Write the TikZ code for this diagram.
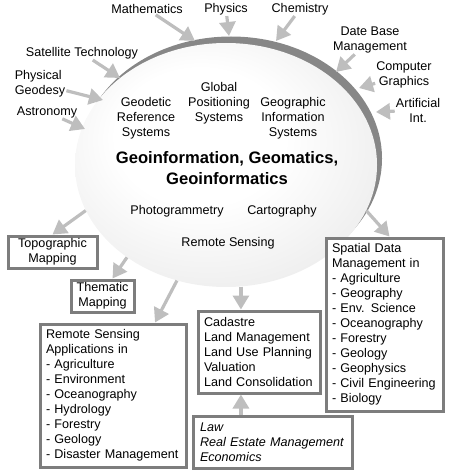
\documentclass[tikz,border=0pt]{standalone}
\usepackage{fontspec}
\setmainfont{Liberation Sans}
\usetikzlibrary{arrows.meta,shapes.geometric,calc}
\definecolor{arrgray}{RGB}{190,190,190}
\definecolor{boxgray}{RGB}{125,125,125}
\definecolor{rimgray}{RGB}{135,135,135}
\definecolor{ellgray}{RGB}{210,210,210}
\definecolor{ellmid}{RGB}{236,236,236}
\pgfdeclareradialshading{ellshade}{\pgfpoint{-6bp}{8bp}}{color(0bp)=(white); color(14bp)=(white); color(32bp)=(ellmid); color(50bp)=(ellgray)}
\begin{document}
\begin{tikzpicture}[x=1pt,y=-1pt,
  lbl/.style={font=\fontsize{12.6}{15}\selectfont, align=center, inner sep=1pt},
  ttl/.style={font=\fontsize{16.6}{20.5}\selectfont\bfseries, align=center, inner sep=1pt},
  bx/.style={draw=boxgray, line width=3pt, fill=white, font=\fontsize{12.6}{15}\selectfont, inner ysep=2pt},
  lbox/.style={bx, align=left},
  cbox/.style={bx, align=center},
  arr/.style={draw=arrgray, line width=3.2pt, -{Triangle[width=16pt,length=14pt]}},
]
\useasboundingbox (0,0) rectangle (451,473);
% rim crescent
\fill[rimgray] (231,158.5) ellipse [x radius=151, y radius=122];
\node[ellipse, minimum width=302pt, minimum height=244pt, inner sep=0pt, shade, shading=ellshade] (geo) at (226,165) {};

% inner texts
\node[lbl] (grs) at (146,118) {Geodetic\\Reference\\Systems};
\node[lbl] (gps) at (219,103) {Global\\Positioning\\Systems};
\node[lbl] (gis) at (293,118) {Geographic\\Information\\Systems};
\node[ttl] (title) at (227,168) {Geoinformation, Geomatics,\\Geoinformatics};
\node[lbl] (photo) at (177,211) {Photogrammetry};
\node[lbl] (carto) at (282,211) {Cartography};
\node[lbl] (rsen) at (228,243) {Remote Sensing};

% outer labels
\node[lbl] (math) at (147,9) {Mathematics};
\node[lbl] (phys) at (226,9) {Physics};
\node[lbl] (chem) at (300,9) {Chemistry};
\node[lbl] (dbm) at (370,40) {Date Base\\Management};
\node[lbl] (cgr) at (404,75) {Computer\\Graphics};
\node[lbl] (ai) at (418,110) {Artificial\\Int.};
\node[lbl] (sat) at (82,53) {Satellite Technology};
\node[lbl, align=left] (pgeo) at (40,84) {Physical\\Geodesy};
\node[lbl] (astro) at (47,112) {Astronomy};

% arrow tips on the rim
\coordinate (tmath) at (195,41);
\coordinate (tphys) at (229,36);
\coordinate (tchem) at (276,41);
\coordinate (tdbm) at (336,72);
\coordinate (tcgr) at (359,88);
\coordinate (tai) at (376,112);
\coordinate (tsat) at (120,78);
\coordinate (tpgeo) at (103,100);
\coordinate (tastro) at (85,129);

\draw[arr] (math) -- (tmath);
\draw[arr] (phys) -- (tphys);
\draw[arr] (chem) -- (tchem);
\draw[arr] (dbm) -- (tdbm);
\draw[arr] (cgr) -- (tcgr);
\draw[arr] (ai) -- (tai);
\draw[arr] (sat) -- (tsat);
\draw[arr] (pgeo) -- (tpgeo);
\draw[arr] (astro) -- (tastro);

% boxes
\node[cbox, minimum width=89pt, minimum height=32pt] (topo) at (52.5,252) {Topographic\\Mapping};
\node[cbox, minimum width=63pt, minimum height=32pt] (them) at (102.5,296) {Thematic\\Mapping};
\node[lbox, inner xsep=6pt, text width=134pt, minimum height=143pt] (rs) at (113,395.5)
  {Remote Sensing\\Applications in\\- Agriculture\\- Environment\\- Oceanography\\- Hydrology\\- Forestry\\- Geology\\- Disaster Management};
\node[lbox, inner xsep=6pt, text width=110pt, minimum height=82pt] (cad) at (259,352)
  {Cadastre\\Land Management\\Land Use Planning\\Valuation\\Land Consolidation};
\node[lbox, inner xsep=7pt, text width=145pt, minimum height=52pt, font=\fontsize{12.6}{15}\selectfont\itshape] (law) at (272.5,442.5)
  {Law\\Real Estate Management\\Economics};
\node[lbox, inner xsep=6pt, text width=105pt, minimum height=173pt] (sdm) at (384.5,324.5)
  {Spatial Data\\Management in\\- Agriculture\\- Geography\\- Env. Science\\- Oceanography\\- Forestry\\- Geology\\- Geophysics\\- Civil Engineering\\- Biology};

% arrows from the ellipse to the boxes
\draw[arr] (geo.198) -- (topo.north);
\draw[arr] (geo.223.5) -- ([xshift=10pt]them.north);
\draw[arr] (geo.247) -- ([xshift=42pt]rs.north);
\draw[arr] (geo.277) -- (geo.277 |- cad.north);
\draw[arr] (geo.277 |- law.north) -- (geo.277 |- cad.south);
\draw[arr] (geo.342) -- ([xshift=5pt]sdm.north);
\end{tikzpicture}
\end{document}
